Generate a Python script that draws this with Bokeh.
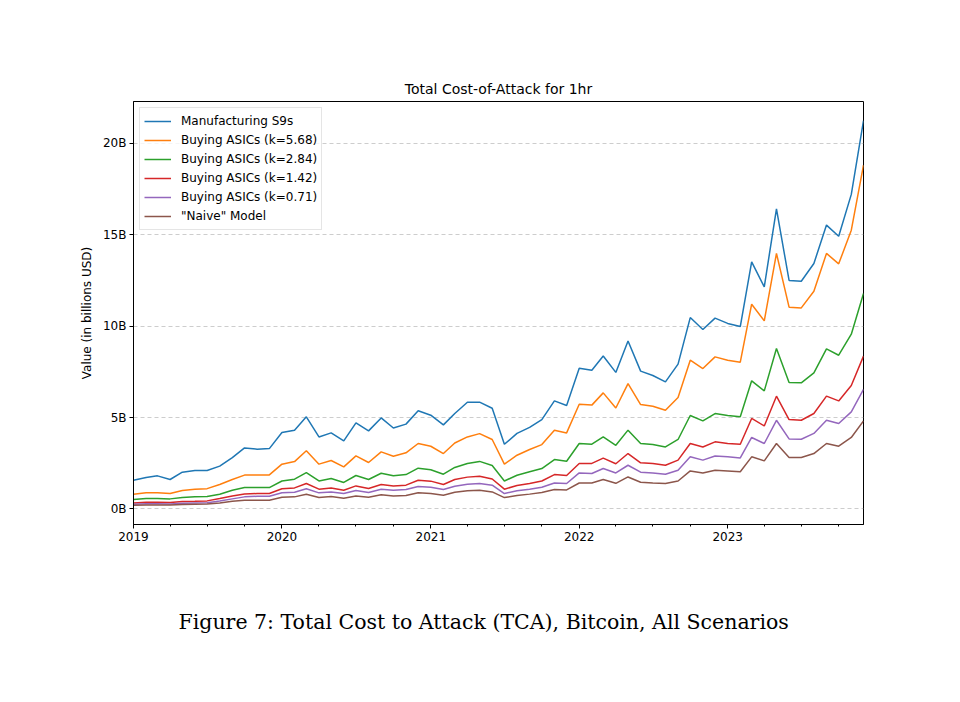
import pandas as pd
from bokeh.plotting import figure
from bokeh.models import FixedTicker, DatetimeTickFormatter, PrintfTickFormatter, Range1d, Title
from bokeh.embed import file_html
from bokeh.resources import INLINE

# ---------------- data (values in billions USD) ----------------
months = pd.date_range("2019-01-01", "2023-12-01", freq="MS")

manufacturing_s9s = [
    1.57, 1.72, 1.81, 1.61, 2.01, 2.10, 2.10, 2.34, 2.81, 3.34,
    3.27, 3.30, 4.18, 4.31, 5.04, 3.94, 4.16, 3.72, 4.71, 4.27,
    4.98, 4.43, 4.64, 5.37, 5.13, 4.60, 5.22, 5.84, 5.84, 5.51,
    3.54, 4.13, 4.46, 4.89, 5.91, 5.66, 7.70, 7.59, 8.37, 7.47,
    9.19, 7.54, 7.30, 6.95, 7.92, 10.47, 9.82, 10.44, 10.15, 9.98,
    13.52, 12.15, 16.42, 12.50, 12.46, 13.43, 15.53, 14.92, 17.21, 21.24,
]
asics_k568 = [
    0.80, 0.88, 0.88, 0.84, 1.01, 1.08, 1.11, 1.34, 1.61, 1.85,
    1.86, 1.86, 2.45, 2.59, 3.18, 2.45, 2.65, 2.30, 2.90, 2.54,
    3.12, 2.88, 3.07, 3.58, 3.43, 3.03, 3.61, 3.94, 4.12, 3.80,
    2.45, 2.94, 3.25, 3.52, 4.31, 4.16, 5.73, 5.68, 6.35, 5.52,
    6.86, 5.71, 5.62, 5.40, 6.10, 8.14, 7.68, 8.32, 8.14, 8.03,
    11.20, 10.29, 13.98, 11.04, 11.00, 11.91, 13.98, 13.41, 15.25, 18.81,
]
asics_k284 = [
    0.51, 0.57, 0.57, 0.55, 0.62, 0.66, 0.68, 0.80, 1.02, 1.17,
    1.17, 1.17, 1.53, 1.63, 1.99, 1.53, 1.66, 1.45, 1.83, 1.61,
    1.95, 1.81, 1.88, 2.23, 2.14, 1.90, 2.27, 2.49, 2.60, 2.38,
    1.53, 1.84, 2.03, 2.21, 2.70, 2.61, 3.58, 3.54, 3.94, 3.48,
    4.31, 3.58, 3.52, 3.39, 3.80, 5.11, 4.82, 5.22, 5.11, 5.04,
    7.01, 6.46, 8.78, 6.92, 6.90, 7.44, 8.76, 8.41, 9.56, 11.79,
]
asics_k142 = [
    0.33, 0.37, 0.37, 0.35, 0.41, 0.42, 0.44, 0.57, 0.71, 0.82,
    0.84, 0.84, 1.10, 1.15, 1.39, 1.08, 1.15, 1.02, 1.26, 1.12,
    1.34, 1.26, 1.30, 1.57, 1.52, 1.34, 1.61, 1.74, 1.79, 1.64,
    1.08, 1.28, 1.39, 1.53, 1.88, 1.83, 2.49, 2.49, 2.78, 2.47,
    3.03, 2.52, 2.49, 2.39, 2.67, 3.58, 3.39, 3.67, 3.58, 3.54,
    4.95, 4.54, 6.17, 4.89, 4.85, 5.22, 6.17, 5.91, 6.75, 8.36,
]
asics_k071 = [
    0.26, 0.28, 0.28, 0.27, 0.31, 0.33, 0.34, 0.43, 0.55, 0.66,
    0.69, 0.69, 0.88, 0.91, 1.10, 0.88, 0.93, 0.84, 1.01, 0.90,
    1.08, 1.02, 1.06, 1.23, 1.19, 1.06, 1.24, 1.35, 1.39, 1.30,
    0.84, 0.99, 1.08, 1.19, 1.42, 1.39, 1.97, 1.94, 2.21, 1.97,
    2.39, 2.01, 1.97, 1.90, 2.12, 2.85, 2.67, 2.90, 2.85, 2.79,
    3.91, 3.58, 4.85, 3.83, 3.81, 4.13, 4.85, 4.67, 5.31, 6.54,
]
naive_model = [
    0.20, 0.22, 0.22, 0.21, 0.24, 0.26, 0.27, 0.33, 0.42, 0.47,
    0.48, 0.48, 0.64, 0.66, 0.80, 0.62, 0.68, 0.59, 0.71, 0.64,
    0.77, 0.71, 0.73, 0.88, 0.84, 0.75, 0.91, 0.99, 1.02, 0.93,
    0.62, 0.73, 0.81, 0.90, 1.06, 1.04, 1.42, 1.42, 1.61, 1.40,
    1.75, 1.46, 1.42, 1.39, 1.53, 2.08, 1.97, 2.12, 2.08, 2.03,
    2.85, 2.63, 3.58, 2.81, 2.81, 3.03, 3.58, 3.43, 3.91, 4.82,
]

series_labels = [
    "Manufacturing S9s",
    "Buying ASICs (k=5.68)",
    "Buying ASICs (k=2.84)",
    "Buying ASICs (k=1.42)",
    "Buying ASICs (k=0.71)",
    '"Naive" Model',
]
series_values = [manufacturing_s9s, asics_k568, asics_k284, asics_k142, asics_k071, naive_model]
series_colors = ["#1f77b4", "#ff7f0e", "#2ca02c", "#d62728", "#9467bd", "#8c564b"]

y_tick_values = [0, 5, 10, 15, 20]
year_ticks = pd.date_range("2019-01-01", "2023-01-01", freq="YS")
quarter_ticks = pd.date_range("2019-01-01", "2023-12-01", freq="QS")

title_text = "Total Cost-of-Attack for 1hr"
y_label = "Value (in billions USD)"
caption_text = "Figure 7: Total Cost to Attack (TCA), Bitcoin, All Scenarios"

# ---------------- figure ----------------
all_vals = [v for s in series_values for v in s]
vmin, vmax = min(all_vals), max(all_vals)
pad = 0.05 * (vmax - vmin)

p = figure(
    width=960, height=702, x_axis_type="datetime",
    output_backend="svg", toolbar_location=None,
    min_border_left=133, min_border_right=97, min_border_top=101, min_border_bottom=178,
    x_range=Range1d(months[0], months[-1]),
    y_range=Range1d(vmin - pad, vmax + pad),
)
p.background_fill_color = "white"
p.border_fill_color = "white"
p.outline_line_color = "black"
p.outline_line_width = 1

for lab, vals, col in zip(series_labels, series_values, series_colors):
    p.line(months, vals, line_color=col, line_width=1.5, legend_label=lab)

# title
p.title.text = title_text
p.title.align = "center"
p.title.text_font = "DejaVu Sans"
p.title.text_font_size = "14px"
p.title.text_font_style = "normal"
p.title.text_color = "black"

# axes
ms = lambda ts: ts.value // 10**6
p.xaxis.ticker = FixedTicker(ticks=[ms(t) for t in year_ticks],
                             minor_ticks=[ms(t) for t in quarter_ticks])
p.xaxis.formatter = DatetimeTickFormatter(
    years="%Y", months="%Y", days="%Y", hours="%Y", minutes="%Y",
    seconds="%Y", milliseconds="%Y", microseconds="%Y",
    hourmin="%Y", minsec="%Y")
p.yaxis.ticker = FixedTicker(ticks=y_tick_values)
p.yaxis.formatter = PrintfTickFormatter(format="%dB")
p.yaxis.axis_label = y_label

for ax in (p.xaxis[0], p.yaxis[0]):
    ax.axis_line_color = "black"
    ax.major_tick_line_color = "black"
    ax.minor_tick_line_color = "black"
    ax.major_tick_out = 4
    ax.major_tick_in = 0
    ax.minor_tick_out = 2
    ax.minor_tick_in = 0
    ax.major_label_text_font = "DejaVu Sans"
    ax.major_label_text_font_size = "12px"
    ax.major_label_text_color = "black"
    ax.major_label_standoff = 3
    ax.axis_label_text_font = "DejaVu Sans"
    ax.axis_label_text_font_size = "12px"
    ax.axis_label_text_font_style = "normal"
    ax.axis_label_text_color = "black"
    ax.axis_label_standoff = 6
p.yaxis.minor_tick_line_color = None

p.xgrid.visible = False
p.ygrid.grid_line_color = "#c0c0c0"
p.ygrid.grid_line_dash = "4 3"
p.ygrid.grid_line_width = 0.8

# legend
lg = p.legend[0]
lg.location = "top_left"
lg.margin = 6
lg.padding = 4
lg.spacing = 1
lg.glyph_width = 27
lg.glyph_height = 18
lg.label_height = 18
lg.label_standoff = 10
lg.label_text_font = "DejaVu Sans"
lg.label_text_font_size = "12px"
lg.label_text_color = "black"
lg.border_line_color = "#cccccc"
lg.border_line_width = 1
lg.background_fill_alpha = 0.8

# caption below the chart
caption = Title(text=caption_text, align="left", offset=45, standoff=129,
                text_font="DejaVu Serif", text_font_size="20.5px",
                text_font_style="normal", text_color="black")
p.add_layout(caption, "below")

open("out.html", "w").write(file_html(p, INLINE))
